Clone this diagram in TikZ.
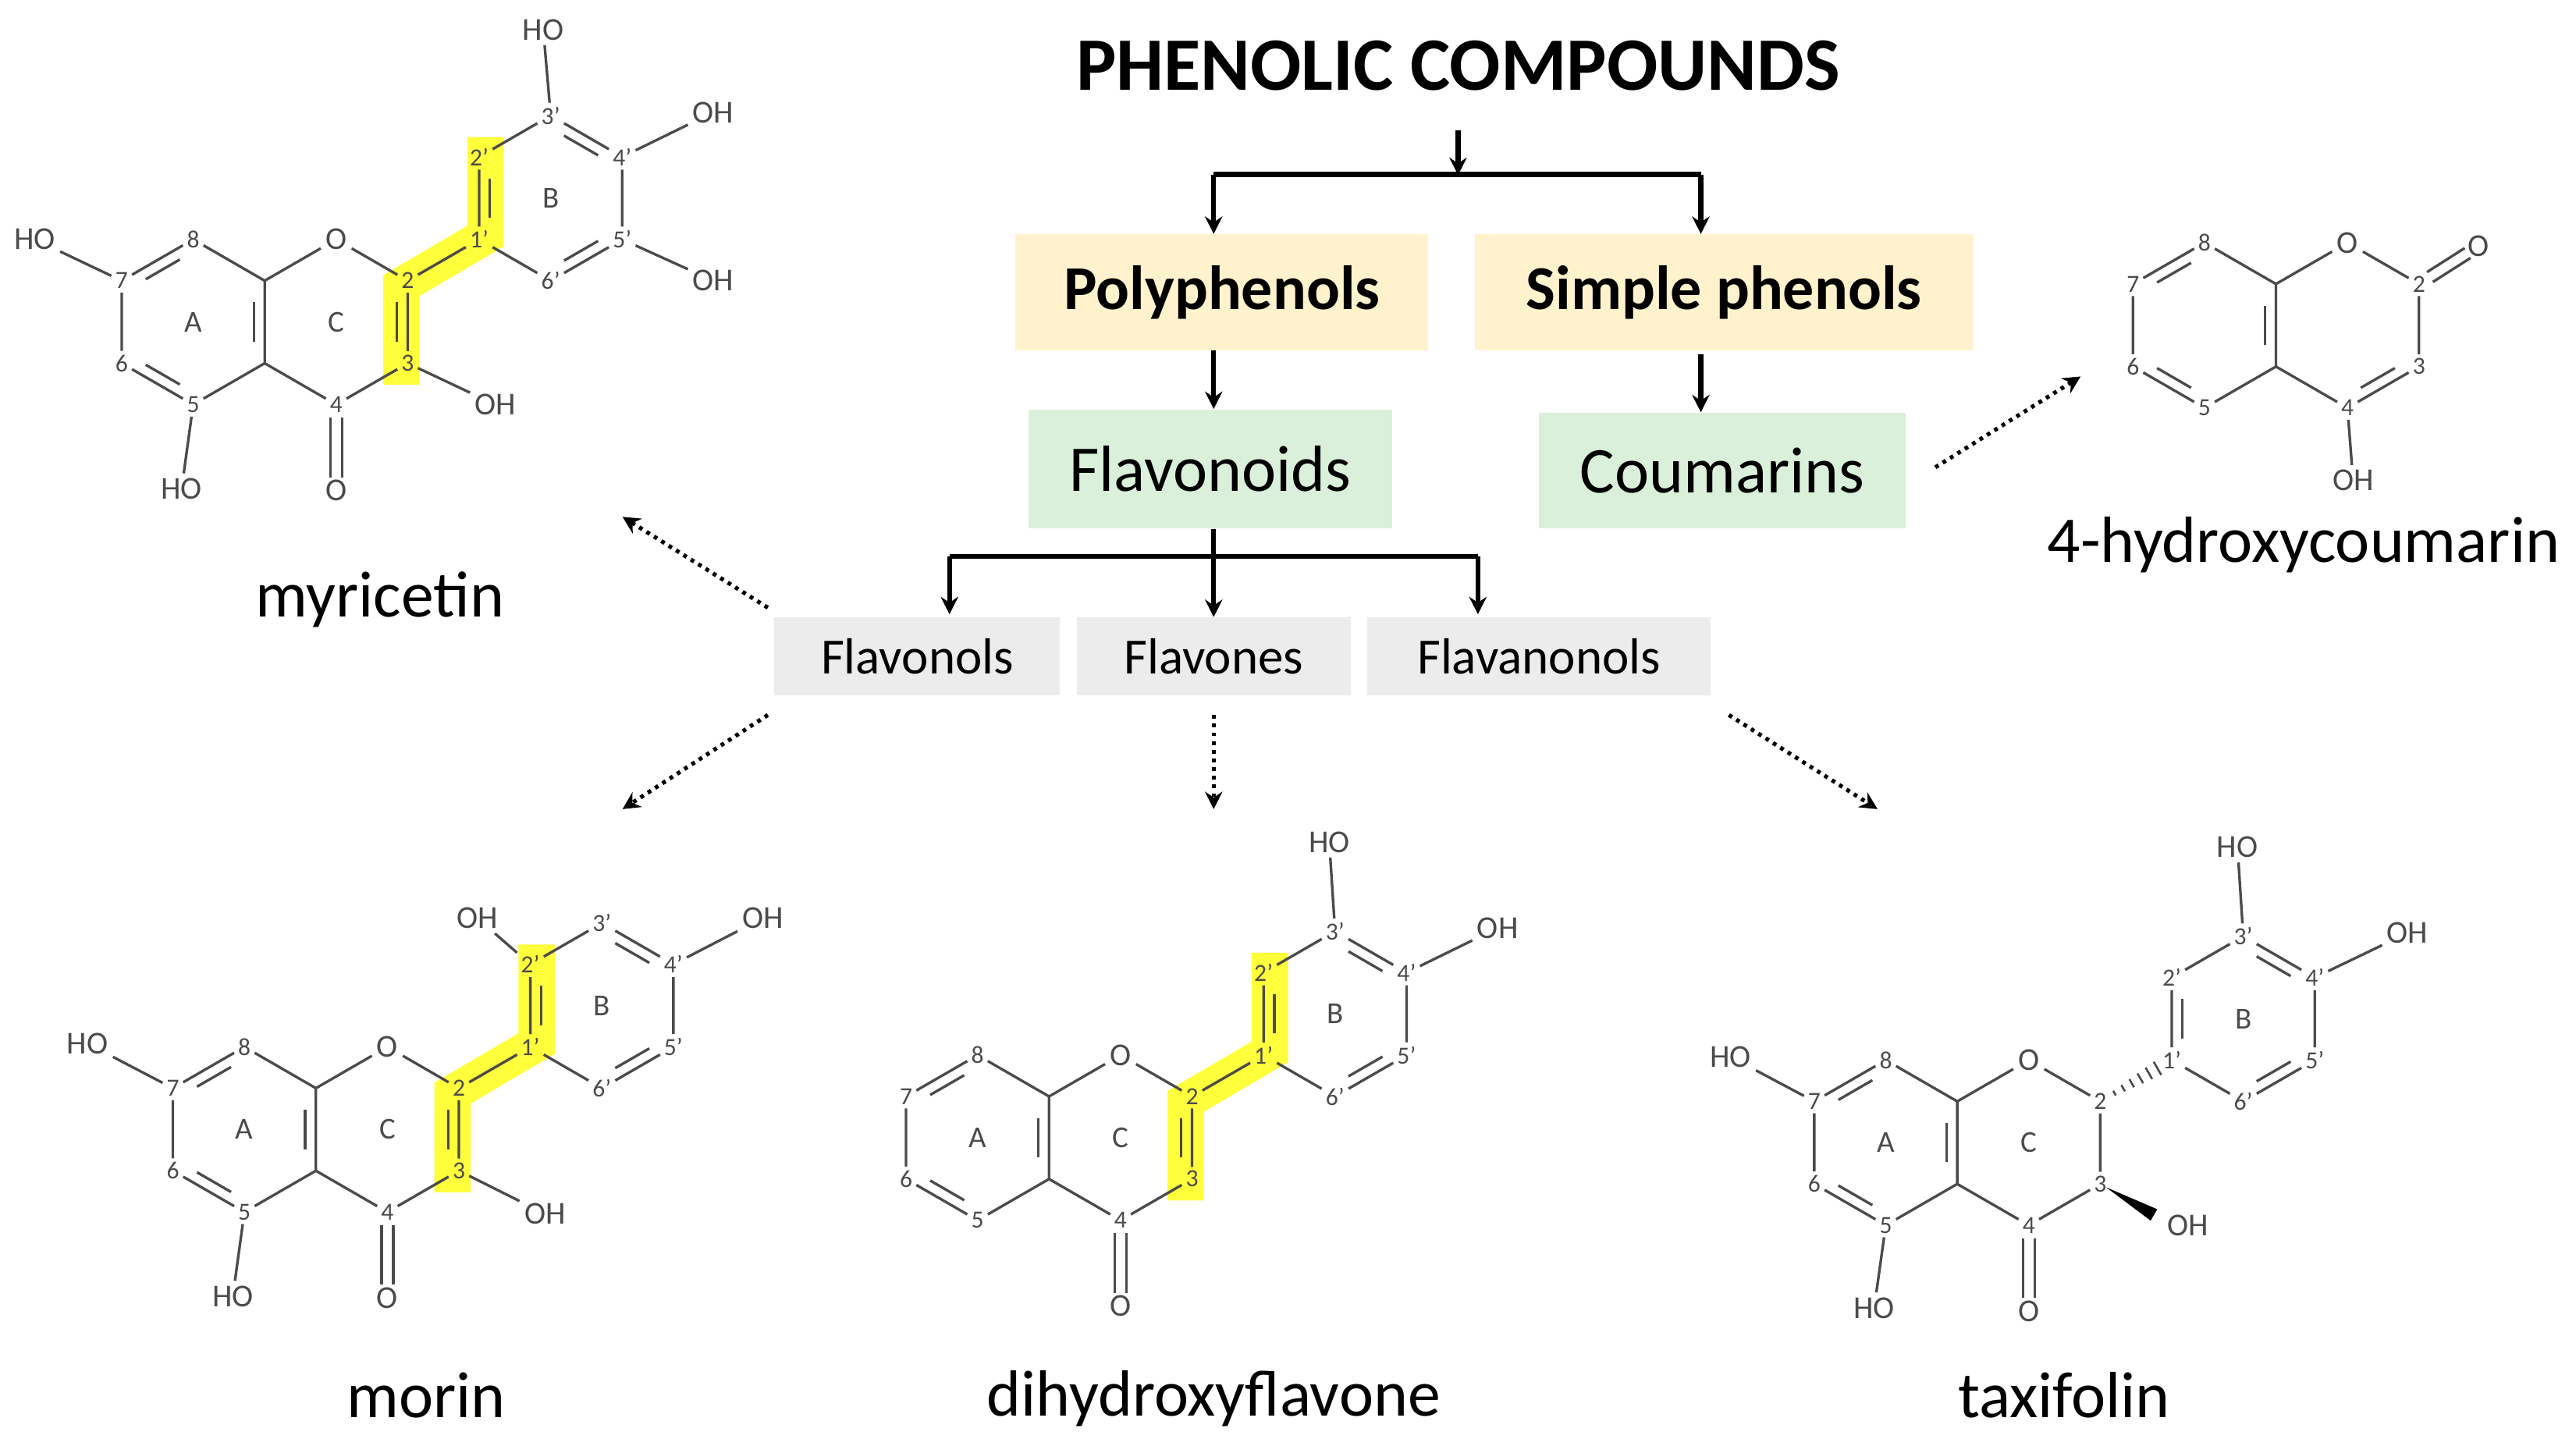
\documentclass[tikz,border=0pt]{standalone}
\usepackage{fontspec}
\setmainfont{Carlito}
\usetikzlibrary{calc,arrows.meta}
\definecolor{hlyel}{RGB}{255,255,60}
\definecolor{boxyel}{RGB}{255,242,204}
\definecolor{boxgrn}{RGB}{218,240,218}
\definecolor{boxgry}{RGB}{236,236,236}
\definecolor{chem}{RGB}{75,75,75}
\newcommand\dbl[3]{\draw[bond] ($($(#1)!.22!(#2)$)!.15!(#3)$) -- ($($(#2)!.22!(#1)$)!.15!(#3)$);}
\newcommand\dbo[4]{\draw[bond,shorten <=4.5pt,shorten >=4.5pt] ($(#1)+(#3,#4)$) -- ($(#2)+(#3,#4)$);}
\newcommand\Skel[1]{%
 \coordinate (#1-cA) at (0,0); \coordinate (#1-cC) at (86.6,0); \coordinate (#1-cB) at (216.5,75);
 \node[atm] (#1-8) at (0,50) {8};
 \node[atm] (#1-7) at (-43.3,25) {7};
 \node[atm] (#1-6) at (-43.3,-25) {6};
 \node[atm] (#1-5) at (0,-50) {5};
 \coordinate (#1-4a) at (43.3,-25); \coordinate (#1-8a) at (43.3,25);
 \node[het] (#1-O) at (86.6,50) {O};
 \node[atm] (#1-2) at (129.9,25) {2};
 \node[atm] (#1-3) at (129.9,-25) {3};
 \node[atm] (#1-4) at (86.6,-50) {4};
 \node[atm] (#1-1p) at (173.2,50) {1'};
 \node[atm] (#1-2p) at (173.2,100) {2'};
 \node[atm] (#1-3p) at (216.5,125) {3'};
 \node[atm] (#1-4p) at (259.8,100) {4'};
 \node[atm] (#1-5p) at (259.8,50) {5'};
 \node[atm] (#1-6p) at (216.5,25) {6'};
 \node[het] (#1-Oc) at (86.6,-102) {O};
 \node[ring] at (#1-cA) {A}; \node[ring] at (#1-cC) {C}; \node[ring] at (#1-cB) {B};
 \draw[bond] (#1-8) -- (#1-7) -- (#1-6) -- (#1-5) -- (#1-4a) -- (#1-8a) -- (#1-8);
 \draw[bond] (#1-8a) -- (#1-O) -- (#1-2) -- (#1-3) -- (#1-4) -- (#1-4a);
 \draw[bond] (#1-1p) -- (#1-2p) -- (#1-3p) -- (#1-4p) -- (#1-5p) -- (#1-6p) -- (#1-1p);
 \dbl{#1-7}{#1-8}{#1-cA} \dbl{#1-5}{#1-6}{#1-cA} \dbl{#1-8a}{#1-4a}{#1-cA}
 \dbl{#1-1p}{#1-2p}{#1-cB} \dbl{#1-3p}{#1-4p}{#1-cB} \dbl{#1-5p}{#1-6p}{#1-cB}
 \dbo{#1-4}{#1-Oc}{-3.5}{0} \dbo{#1-4}{#1-Oc}{3.5}{0}
}
\tikzset{
 bond/.style={draw=chem,line width=0.9pt},
 atm/.style={inner sep=1.2pt,text=chem,font=\fontsize{8.5}{8.5}\selectfont},
 het/.style={inner sep=1.5pt,text=chem,font=\fontsize{11}{11}\selectfont},
 ring/.style={text=chem,font=\fontsize{10.5}{10.5}\selectfont},
 hl/.style={draw=hlyel,line width=0.44cm,line join=miter},
 fbox/.style={minimum height=1.4cm,inner sep=0pt,font=\fontsize{21.5}{22}\selectfont},
 gbox/.style={fill=boxgry,minimum height=0.94cm,inner sep=0pt,font=\fontsize{17.5}{18}\selectfont},
 arr/.style={line width=1.7pt,-{Stealth[length=6pt,width=6pt,inset=2pt]}},
 ln/.style={line width=1.7pt},
 darr/.style={line width=1.4pt,dash pattern=on 1.3pt off 1.7pt,-{Stealth[length=6pt,width=6pt,inset=2pt]}},
 cname/.style={font=\fontsize{22.5}{23}\selectfont}
}
\begin{document}
\begin{tikzpicture}[x=0.02cm,y=-0.02cm]
\useasboundingbox (0,0) rectangle (1560,871);
\fill[white] (0,0) rectangle (1560,871);
% ---- flowchart
\node[font=\bfseries\fontsize{26}{27}\selectfont] (title) at (883,40) {PHENOLIC COMPOUNDS};
\coordinate (j1) at (883,106);
\node[fbox,fill=boxyel,minimum width=5cm,font=\bfseries\fontsize{21.5}{22}\selectfont] (poly) at (740,177) {Polyphenols};
\node[fbox,fill=boxyel,minimum width=6.04cm,font=\bfseries\fontsize{21.5}{22}\selectfont] (simp) at (1044,177) {Simple phenols};
\node[fbox,fill=boxgrn,minimum width=4.4cm,minimum height=1.44cm,font=\fontsize{22.5}{23}\selectfont] (flav) at (733,284) {Flavonoids};
\node[fbox,fill=boxgrn,minimum width=4.44cm,font=\fontsize{22.5}{23}\selectfont] (coum) at (1043,285) {Coumarins};
\node[gbox,minimum width=3.46cm] (fnol) at (555.5,397.5) {Flavonols};
\node[gbox,minimum width=3.32cm] (fone) at (735,397.5) {Flavones};
\node[gbox,minimum width=4.16cm] (fanol) at (932,397.5) {Flavanonols};
\draw[arr,shorten <=10pt] (title.south) -- (j1);
\draw[ln] ($(poly.north)+(-5,-36)$) -- ($(simp.north)+(-14,-36)$);
\draw[arr] ($(poly.north)+(-5,-36)$) -- ($(poly.north)+(-5,0)$);
\draw[arr] ($(simp.north)+(-14,-36)$) -- ($(simp.north)+(-14,0)$);
\draw[arr] ($(poly.south)+(-5,0)$) -- ($(flav.north)+(2,0)$);
\draw[arr] ($(simp.south)+(-14,2)$) -- ($(coum.north)+(-13,0)$);
\coordinate (j2) at (735,337);
\draw[ln] ($(flav.south)+(2,0)$) -- (j2);
\draw[ln] (575,337) -- (895,337);
\draw[arr] (575,337) -- (575,372);
\draw[arr] (j2) -- (fone.north);
\draw[arr] (895,337) -- (895,372);
% dotted arrows
\coordinate (dmyr) at (377,313);
\coordinate (dmor) at (377,490);
\coordinate (ddhf) at (735,490);
\coordinate (dtax) at (1137,490);
\coordinate (dhc) at (1260,228);
\draw[darr] (465,368) -- (dmyr);
\draw[darr] (465,433) -- (dmor);
\draw[darr] (735,433) -- (ddhf);
\draw[darr] (1047,433) -- (dtax);
\draw[darr] (1172,283) -- (dhc);
% ---- myricetin
\begin{scope}[shift={(117,195)},yscale=-1]
 \draw[hl] (177,112) -- (177,52) -- (126,22) -- (126,-38);
 \Skel{m}
 \draw[bond] (m-2) -- (m-1p); \dbl{m-2}{m-3}{m-cC}
 \node[het] (m-o7) at (-96,50) {HO}; \draw[bond] (m-7) -- (m-o7);
 \node[het] (m-o5) at (-7,-101) {HO}; \draw[bond] (m-5) -- (m-o5);
 \node[het] (m-o3) at (183,-50) {OH}; \draw[bond] (m-3) -- (m-o3);
 \node[het] (m-o3p) at (212,177) {HO}; \draw[bond] (m-3p) -- (m-o3p);
 \node[het] (m-o4p) at (315,127) {OH}; \draw[bond] (m-4p) -- (m-o4p);
 \node[het] (m-o5p) at (315,25) {OH}; \draw[bond] (m-5p) -- (m-o5p);
\end{scope}
\node[cname] (nmyr) at (230,363) {myricetin};
% ---- morin
\begin{scope}[shift={(148,684)},yscale=-1]
 \draw[hl] (177,112) -- (177,52) -- (126,22) -- (126,-38);
 \Skel{n}
 \draw[bond] (n-2) -- (n-1p); \dbl{n-2}{n-3}{n-cC}
 \node[het] (n-o7) at (-95,52) {HO}; \draw[bond] (n-7) -- (n-o7);
 \node[het] (n-o5) at (-7,-101) {HO}; \draw[bond] (n-5) -- (n-o5);
 \node[het] (n-o3) at (182,-51) {OH}; \draw[bond] (n-3) -- (n-o3);
 \node[het] (n-o2p) at (141,128) {OH}; \draw[bond] (n-2p) -- (n-o2p);
 \node[het] (n-o4p) at (314,128) {OH}; \draw[bond] (n-4p) -- (n-o4p);
\end{scope}
\node[cname] (nmor) at (258,845) {morin};
% ---- dihydroxyflavone
\begin{scope}[shift={(592,689)},yscale=-1]
 \draw[hl] (177,112) -- (177,52) -- (126,22) -- (126,-38);
 \Skel{d}
 \draw[bond] (d-2) -- (d-1p); \dbl{d-2}{d-3}{d-cC}
 \node[het] (d-o3p) at (213,179) {HO}; \draw[bond] (d-3p) -- (d-o3p);
 \node[het] (d-o4p) at (315,127) {OH}; \draw[bond] (d-4p) -- (d-o4p);
\end{scope}
\node[cname] (ndhf) at (735,847) {dihydroxyflavone};
% ---- taxifolin
\begin{scope}[shift={(1142,692)},yscale=-1]
 \Skel{t}
 \foreach \t in {0.2,0.32,...,0.86} {
   \pgfmathsetmacro\w{0.6+5*\t}
   \draw[draw=chem,line width=0.7pt] ({129.9+43.3*\t-0.5*\w},{25+25*\t+0.866*\w}) -- ({129.9+43.3*\t+0.5*\w},{25+25*\t-0.866*\w});
 }
 \fill[black] (133.4,-27) -- (164.4,-40.3) -- (160.4,-47.2) -- cycle;
 \node[het] (t-o7) at (-94,52) {HO}; \draw[bond] (t-7) -- (t-o7);
 \node[het] (t-o5) at (-7,-100) {HO}; \draw[bond] (t-5) -- (t-o5);
 \node[het] (t-o3) at (183,-50) {OH};
 \node[het] (t-o3p) at (213,179) {HO}; \draw[bond] (t-3p) -- (t-o3p);
 \node[het] (t-o4p) at (316,127) {OH}; \draw[bond] (t-4p) -- (t-o4p);
\end{scope}
\node[cname] (ntax) at (1250,845) {taxifolin};
% ---- 4-hydroxycoumarin
\begin{scope}[shift={(1335,197)},yscale=-1]
 \coordinate (h-c) at (0,0); \coordinate (h-cC) at (86.6,0);
 \node[atm] (h-8) at (0,50) {8};
 \node[atm] (h-7) at (-43.3,25) {7};
 \node[atm] (h-6) at (-43.3,-25) {6};
 \node[atm] (h-5) at (0,-50) {5};
 \coordinate (h-4a) at (43.3,-25); \coordinate (h-8a) at (43.3,25);
 \node[het] (h-O) at (86.6,50) {O};
 \node[atm] (h-2) at (129.9,25) {2};
 \node[atm] (h-3) at (129.9,-25) {3};
 \node[atm] (h-4) at (86.6,-50) {4};
 \node[het] (h-Oc) at (166,48) {O};
 \node[het] (h-oh) at (90,-94) {OH};
 \draw[bond] (h-8) -- (h-7) -- (h-6) -- (h-5) -- (h-4a) -- (h-8a) -- (h-8);
 \draw[bond] (h-8a) -- (h-O) -- (h-2) -- (h-3) -- (h-4) -- (h-4a);
 \draw[bond] (h-4) -- (h-oh);
 \dbl{h-7}{h-8}{h-c} \dbl{h-5}{h-6}{h-c} \dbl{h-8a}{h-4a}{h-c} \dbl{h-3}{h-4}{h-cC}
 \dbo{h-2}{h-Oc}{-1.75}{3} \dbo{h-2}{h-Oc}{1.75}{-3}
\end{scope}
\node[cname] (nhc) at (1395,330) {4-hydroxycoumarin};
\end{tikzpicture}
\end{document}
